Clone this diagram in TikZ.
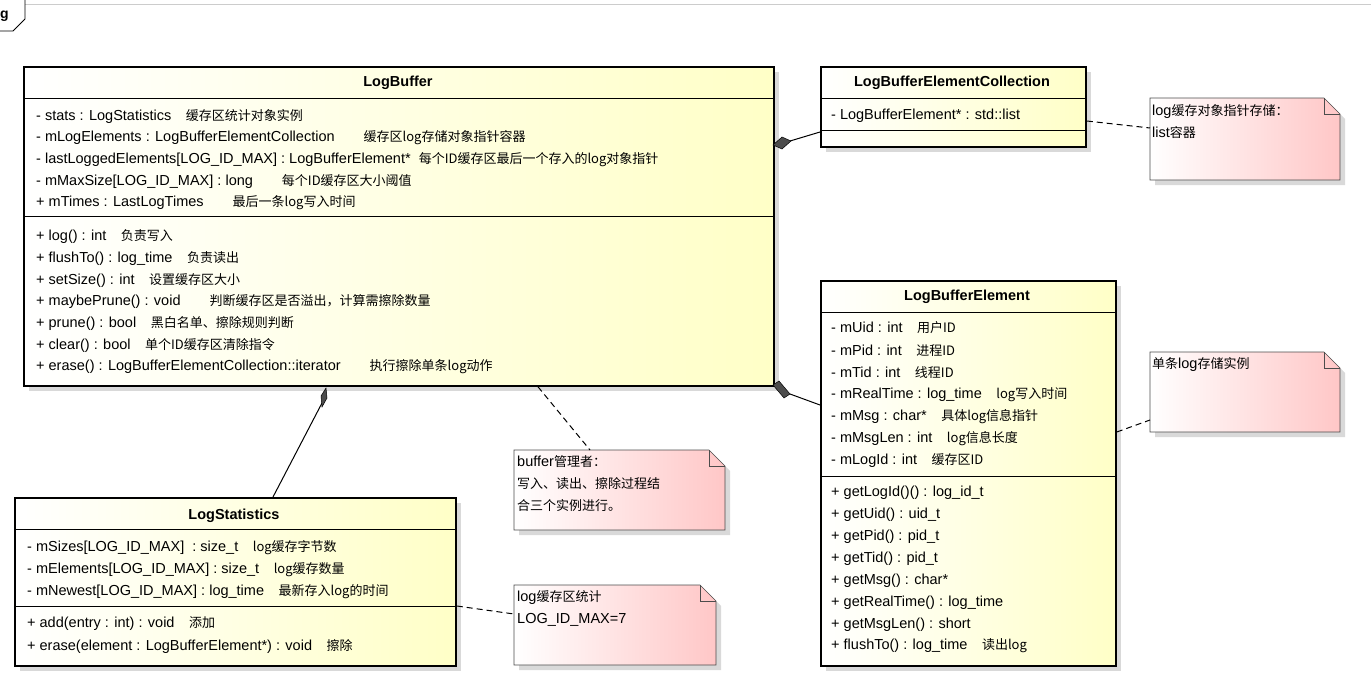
\documentclass[tikz,border=0pt]{standalone}
\usepackage{fontspec}
\setmainfont{Liberation Sans}
\newfontfamily\cjk{Noto Sans CJK SC}
\newcommand{\zh}[1]{{\cjk\fontsize{13}{15}\selectfont #1}}
\usetikzlibrary{calc,shadows}
\begin{document}
\begin{tikzpicture}[x=1pt,y=-1pt,
  box/.style={draw=black,line width=1.8pt,inner sep=0pt,anchor=north west,left color=white,right color=yellow!22,
     drop shadow={shadow xshift=5pt,shadow yshift=-5pt,fill=gray!30,opacity=1}},
  note/.style={inner sep=0pt,anchor=north west},
  tx/.style={anchor=west,inner sep=0pt,font=\fontsize{14.5}{16}\selectfont},
  ttl/.style={anchor=center,inner sep=0pt,font=\fontsize{14.5}{16}\selectfont\bfseries},
  sep/.style={line width=0.6pt},
  comp/.style={line width=1pt},
  dia/.style={fill=black!70,draw=black,line width=0.5pt},
  dsh/.style={dashed,dash pattern=on 6pt off 4pt,line width=1pt}]
\useasboundingbox (0,0) rectangle (1371,693);
% frame
\draw[gray!40,line width=0.8pt] (25,4) -- (1371,4);
\draw[line width=0.8pt] (0,31) -- (13,31) -- (25,19) -- (25,0);
\node[anchor=west,inner sep=0pt,font=\fontsize{14}{15}\selectfont\bfseries] (fr) at (0,16) {g};

% LogBuffer
\node[box,minimum width=750pt,minimum height=319pt] (lb) at (23,66) {};
\draw[sep] (23,98) -- (773,98); \draw[sep] (23,216) -- (773,216);
\node[ttl] (lbt) at (398,83) {LogBuffer};
\node[tx] (a1) at (36,116) {- stats : LogStatistics\quad\zh{缓存区统计对象实例}};
\node[tx] (a2) at (36,138) {- mLogElements : LogBufferElementCollection\qquad\zh{缓存区log存储对象指针容器}};
\node[tx] (a3) at (36,160) {- lastLoggedElements[LOG\_ID\_MAX] : LogBufferElement*\ \ \zh{每个ID缓存区最后一个存入的log对象指针}};
\node[tx] (a4) at (36,182) {- mMaxSize[LOG\_ID\_MAX] : long\qquad\zh{每个ID缓存区大小阈值}};
\node[tx] (a5) at (36,203) {+ mTimes : LastLogTimes\qquad\zh{最后一条log写入时间}};
\node[tx] (m1) at (36,237) {+ log() : int\quad\zh{负责写入}};
\node[tx] (m2) at (36,259) {+ flushTo() : log\_time\quad\zh{负责读出}};
\node[tx] (m3) at (36,281) {+ setSize() : int\quad\zh{设置缓存区大小}};
\node[tx] (m4) at (36,301) {+ maybePrune() : void\qquad\zh{判断缓存区是否溢出，计算需擦除数量}};
\node[tx] (m5) at (36,323) {+ prune() : bool\quad\zh{黑白名单、擦除规则判断}};
\node[tx] (m6) at (36,345) {+ clear() : bool\quad\zh{单个ID缓存区清除指令}};
\node[tx] (m7) at (36,367) {+ erase() : LogBufferElementCollection::iterator\qquad\zh{执行擦除单条log动作}};

% Collection
\node[box,minimum width=265pt,minimum height=80pt] (col) at (820,66) {};
\draw[sep] (820,98) -- (1085,98); \draw[sep] (820,130) -- (1085,130);
\node[ttl] (colt) at (952,83) {LogBufferElementCollection};
\node[tx] (c1) at (831,116) {- LogBufferElement* : std::list};

% LogBufferElement
\node[box,minimum width=295pt,minimum height=385pt] (el) at (820,280) {};
\draw[sep] (820,312) -- (1115,312); \draw[sep] (820,476) -- (1115,476);
\node[ttl] (elt) at (967,297) {LogBufferElement};
\node[tx] (e1) at (831,328) {- mUid : int\quad\zh{用户ID}};
\node[tx] (e2) at (831,351) {- mPid : int\quad\zh{进程ID}};
\node[tx] (e3) at (831,373) {- mTid : int\quad\zh{线程ID}};
\node[tx] (e4) at (831,395) {- mRealTime : log\_time\quad\zh{log写入时间}};
\node[tx] (e5) at (831,417) {- mMsg : char*\quad\zh{具体log信息指针}};
\node[tx] (e6) at (831,439) {- mMsgLen : int\quad\zh{log信息长度}};
\node[tx] (e7) at (831,461) {- mLogId : int\quad\zh{缓存区ID}};
\node[tx] (f1) at (831,493) {+ getLogId()() : log\_id\_t};
\node[tx] (f2) at (831,515) {+ getUid() : uid\_t};
\node[tx] (f3) at (831,537) {+ getPid() : pid\_t};
\node[tx] (f4) at (831,559) {+ getTid() : pid\_t};
\node[tx] (f5) at (831,581) {+ getMsg() : char*};
\node[tx] (f6) at (831,603) {+ getRealTime() : log\_time};
\node[tx] (f7) at (831,625) {+ getMsgLen() : short};
\node[tx] (f8) at (831,646) {+ flushTo() : log\_time\quad\zh{读出log}};

% LogStatistics
\node[box,minimum width=441pt,minimum height=168pt] (st) at (14,497) {};
\draw[sep] (14,529) -- (455,529); \draw[sep] (14,606) -- (455,606);
\node[ttl] (stt) at (234,516) {LogStatistics};
\node[tx] (s1) at (27,548) {- mSizes[LOG\_ID\_MAX]\ \ : size\_t\quad\zh{log缓存字节数}};
\node[tx] (s2) at (27,570) {- mElements[LOG\_ID\_MAX] : size\_t\quad\zh{log缓存数量}};
\node[tx] (s3) at (27,592) {- mNewest[LOG\_ID\_MAX] : log\_time\quad\zh{最新存入log的时间}};
\node[tx] (s4) at (27,624) {+ add(entry : int) : void\quad\zh{添加}};
\node[tx] (s5) at (27,646) {+ erase(element : LogBufferElement*) : void\quad\zh{擦除}};

% notes
\newcommand{\notebox}[5]{%
 \fill[gray!30] (#1+5,#2+5) -- (#3+5-16,#2+5) -- (#3+5,#2+5+16) -- (#3+5,#4+5) -- (#1+5,#4+5) -- cycle;
 \shade[left color=white,right color=red!22,draw=black!70,line width=0.6pt] (#1,#2) -- (#3-16,#2) -- (#3,#2+16) -- (#3,#4) -- (#1,#4) -- cycle;
 \draw[black!70,line width=0.6pt] (#3-16,#2) -- (#3-16,#2+16) -- (#3,#2+16);
 \node[note,minimum width=#3-#1,minimum height=#4-#2] (#5) at (#1,#2) {};}
\notebox{1150}{98}{1340}{180}{n1}
\node[tx] (n1a) at (1152,112) {log\zh{缓存对象指针存储：}};
\node[tx] (n1b) at (1152,133) {list\zh{容器}};
\notebox{1150}{352}{1340}{432}{n2}
\node[tx] (n2a) at (1152,364) {\zh{单条}log\zh{存储实例}};
\notebox{514}{450}{725}{530}{n3}
\node[tx] (n3a) at (517,462) {buffer\zh{管理者：}};
\node[tx] (n3b) at (517,484) {\zh{写入、读出、擦除过程结}};
\node[tx] (n3c) at (517,506) {\zh{合三个实例进行。}};
\notebox{514}{585}{716}{665}{n4}
\node[tx] (n4a) at (517,598) {log\zh{缓存区统计}};
\node[tx] (n4b) at (517,620) {LOG\_ID\_MAX=7};

% compositions
\coordinate (p1) at (773,145); \coordinate (q1) at (820,132);
\draw[comp] (p1) ++(17,-4) -- (q1);
\draw[dia] (p1) -- ++(9,-8) -- ++(9,4) -- ++(-9,8) -- cycle;
\coordinate (p2) at (773,385); \coordinate (q2) at (820,405);
\draw[comp] (p2) ++(17,9) -- (q2);
\draw[dia] (p2) -- ++(6,-4) -- ++(11,13) -- ++(-6,4) -- cycle;
\coordinate (p3) at (322,392); \coordinate (q3) at (273,497);
\draw[comp] (322,403) -- (q3);
\draw[dia] (p3) ++(4,-4) -- ++(-5,8) -- ++(1,11) -- ++(5,-9) -- cycle;
% dashed note links
\draw[dsh] (col.east |- 0,121) -- (n1.west |- 0,128);
\draw[dsh] (lb.south -| 538,0) -- (n3.north -| 590,0);
\draw[dsh] (el.east |- 0,432) -- (n2.west |- 0,420);
\draw[dsh] (st.east |- 0,606) -- (n4.west |- 0,614);
\end{tikzpicture}
\end{document}
